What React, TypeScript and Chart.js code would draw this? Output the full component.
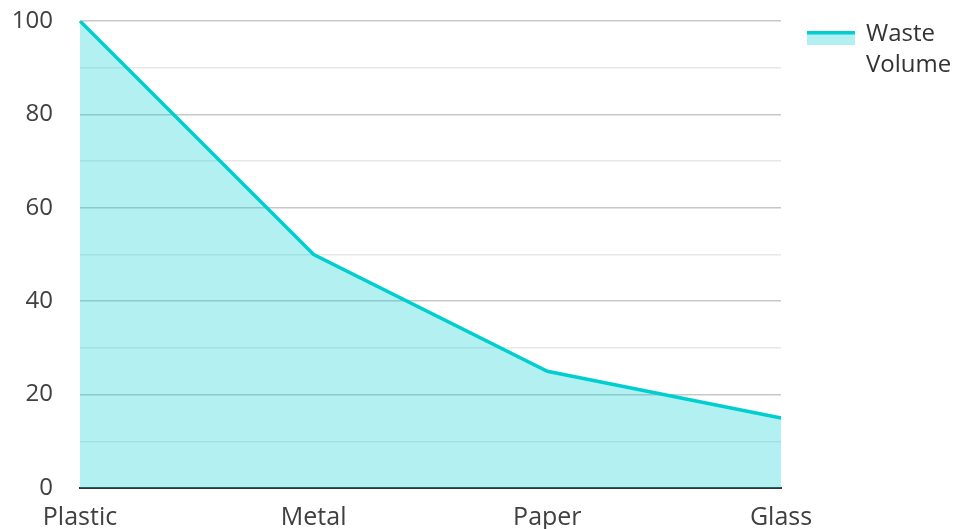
import React, { useEffect, useRef } from "react";
import { Chart, registerables } from "chart.js";

Chart.register(...registerables);

const categories = ["Plastic", "Metal", "Paper", "Glass"];
const wasteVolume = [100, 50, 25, 15];
const seriesLabel = ["Waste", "Volume"];
const yMajorTicks = [0, 20, 40, 60, 80, 100];

const LINE = "#00CED1";
const FILL = "rgba(0, 206, 209, 0.3)";
const FONT = "'Open Sans', 'Noto Sans', sans-serif";

const legendPlugin = {
  id: "customLegend",
  afterDraw(chart: any) {
    const { ctx, chartArea } = chart;
    const x = chartArea.right + 26;
    const y = chartArea.top + 10;
    ctx.save();
    ctx.fillStyle = FILL;
    ctx.fillRect(x, y, 48, 14);
    ctx.strokeStyle = LINE;
    ctx.lineWidth = 3.5;
    ctx.beginPath();
    ctx.moveTo(x, y + 1.75);
    ctx.lineTo(x + 48, y + 1.75);
    ctx.stroke();
    ctx.fillStyle = "#333333";
    ctx.font = `24px ${FONT}`;
    ctx.textBaseline = "middle";
    ctx.textAlign = "left";
    seriesLabel.forEach((t, i) => {
      ctx.fillText(t, x + 59, chartArea.top + 13 + i * 31);
    });
    ctx.restore();
  },
};

export default function App() {
  const ref = useRef<HTMLCanvasElement | null>(null);
  useEffect(() => {
    document.body.style.margin = "0";
    const chart = new Chart(ref.current as HTMLCanvasElement, {
      type: "line",
      data: {
        labels: categories,
        datasets: [
          {
            label: seriesLabel.join(" "),
            data: wasteVolume,
            borderColor: LINE,
            backgroundColor: FILL,
            borderWidth: 3.5,
            fill: "origin",
            pointRadius: 0,
            tension: 0,
          },
        ],
      },
      options: {
        animation: false,
        responsive: false,
        maintainAspectRatio: false,
        layout: { padding: { left: 13, right: 174, top: 0, bottom: 0 } },
        plugins: {
          legend: { display: false },
          tooltip: { enabled: false },
        },
        scales: {
          x: {
            offset: false,
            grid: { display: false, drawTicks: false },
            border: { display: true, color: "#333333", width: 2 },
            afterFit: (s: any) => {
              s.height = 41;
            },
            ticks: {
              color: "#404040",
              font: { family: FONT, size: 25 },
              padding: 15,
              maxRotation: 0,
              autoSkip: false,
            },
          },
          y: {
            min: 0,
            max: 100,
            afterFit: (s: any) => {
              s.width = 67;
              s.paddingTop = 21;
              s.paddingBottom = 0;
            },
            grid: {
              drawTicks: false,
              lineWidth: 1.5,
              color: (c: any) =>
                c.tick && yMajorTicks.includes(c.tick.value) ? "#c8c8c8" : "#e8e8e8",
            },
            border: { display: false },
            ticks: {
              stepSize: 10,
              autoSkip: false,
              padding: 27,
              color: "#404040",
              font: { family: FONT, size: 24 },
              callback: (v: any) => (yMajorTicks.includes(Number(v)) ? String(v) : ""),
            },
          },
        },
      },
      plugins: [legendPlugin],
    });
    return () => chart.destroy();
  }, []);
  return (
    <div style={{ width: 955, height: 529 }}>
      <canvas ref={ref} width={955} height={529} style={{ width: 955, height: 529, display: "block" }} />
    </div>
  );
}
